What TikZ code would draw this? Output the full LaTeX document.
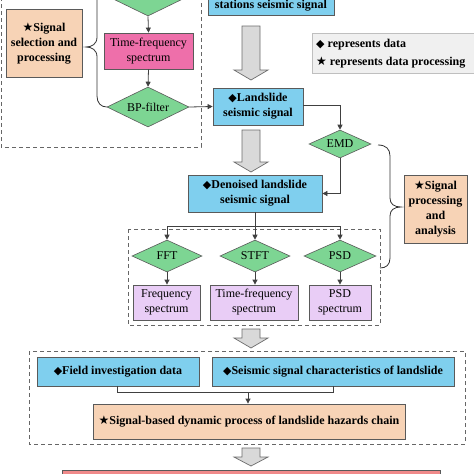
\documentclass[tikz,border=0pt]{standalone}
\usepackage{fontspec}
\setmainfont{Liberation Serif}
\newfontfamily\symf{DejaVu Sans}
\usetikzlibrary{shapes.geometric,arrows.meta}
\definecolor{cblue}{HTML}{7FCFEE}
\definecolor{cpink}{HTML}{EE6FAA}
\definecolor{cgreen}{HTML}{7DD593}
\definecolor{cpurple}{HTML}{E9CDF6}
\definecolor{cpeach}{HTML}{F7D3B6}
\definecolor{cred}{HTML}{F08A8A}
\definecolor{cborder}{HTML}{5A5A5A}
\newcommand{\dia}{{\symf\fontsize{11}{12}\selectfont◆}}
\newcommand{\str}{{\symf\fontsize{12}{12}\selectfont★}}
\tikzset{
  every node/.style={font=\fontsize{12}{15}\selectfont},
  bx/.style={draw=cborder,line width=0.8pt,inner sep=0pt,align=center},
  databox/.style={bx,fill=cblue,font=\fontsize{12}{15}\selectfont\bfseries},
  procbox/.style={bx,fill=cpeach,font=\fontsize{12}{15}\selectfont\bfseries},
  specbox/.style={bx,fill=cpurple},
  dia/.style={diamond,draw=cborder,line width=0.6pt,fill=cgreen,inner sep=0pt,aspect=2.3},
  grp/.style={draw=gray!80!black,line width=0.9pt,dash pattern=on 4pt off 3pt},
  conn/.style={draw=black!75,line width=0.8pt},
  arr/.style={conn,-{Triangle[length=5pt,width=5pt]}},
  brace/.style={draw=black!80,line width=0.8pt},
  bigarrow/.style={draw=gray!85!black,line width=0.7pt,fill=gray!30}
}
\newcommand{\bigarr}[4]{% x, top, headstart, tip
  \draw[bigarrow] (#1-9,#2) -- (#1+9,#2) -- (#1+9,#3) -- (#1+17,#3) -- (#1,#4) -- (#1-17,#3) -- (#1-9,#3) -- cycle;}
\begin{document}
\begin{tikzpicture}[x=1pt,y=-1pt]
\useasboundingbox (0,0) rectangle (474,474);
\fill[white] (0,0) rectangle (474,474);
% group 1
\draw[grp] (1,-10) rectangle (201,147);
\node[procbox,minimum width=76,minimum height=68] (sel) at (44,43) {\str Signal\\selection and\\processing};
\node[dia,minimum width=82,minimum height=40] (top) at (148,-4) {};
\node[bx,fill=cpink,minimum width=89,minimum height=36] (tf) at (148.5,51) {Time-frequency\\spectrum};
\node[dia,minimum width=82,minimum height=40] (bp) at (148,107) {BP-filter};
\draw[arr] (top.south) -- (tf.north);
\draw[arr] (tf.south) -- (bp.north);
\draw[brace] (97,-12) -- (97,37) .. controls (97,44) and (92,47) .. (86,47)
  .. controls (92,47) and (97,50) .. (97,57) -- (97,96) .. controls (97,103) and (101,107) .. (bp.west);
% stations
\node[databox,minimum width=126,minimum height=40] (sta) at (271,-5) {};
\node[font=\fontsize{12}{15}\selectfont\bfseries,inner sep=0pt] (statxt) at (271,6) {stations seismic signal};
% legend
\node[draw=gray!50,fill=gray!12,minimum width=166,minimum height=40,inner sep=0pt] (leg) at (395,53) {};
\node[anchor=west,font=\fontsize{12}{15}\selectfont\bfseries,inner sep=0pt] (l1) at (316,45) {\dia\ represents data};
\node[anchor=west,font=\fontsize{12}{15}\selectfont\bfseries,inner sep=0pt] (l2) at (316,62) {\str\ represents data processing};
% landslide
\node[databox,minimum width=90,minimum height=37] (land) at (258,106.5) {\dia Landslide\\seismic signal};
\draw[arr] (bp.east) -- (land.west);
\bigarr{251}{26}{70}{80}
\node[dia,minimum width=62,minimum height=28] (emd) at (340,144) {EMD};
\draw[arr] (land.east |- 0,105) -| (emd.north);
\node[databox,minimum width=134,minimum height=37] (den) at (255,193.5) {\dia Denoised landslide\\seismic signal};
\draw[arr] (emd.south) |- (den.east);
\bigarr{251}{130}{162}{172}
% right brace and box
\node[procbox,minimum width=63,minimum height=68] (spa) at (435.5,209) {\str Signal\\processing\\and\\analysis};
\draw[brace] (378,145) .. controls (386,145) and (390,149) .. (390,156) -- (390,198) .. controls (390,204) and (394,207) .. (401,207)
  .. controls (394,207) and (390,210) .. (390,216) -- (390,258) .. controls (390,265) and (386,268) .. (380,268);
% group 2
\draw[grp] (128,229) rectangle (380,325);
\node[dia,minimum width=70,minimum height=32] (fft) at (167,256) {FFT};
\node[dia,minimum width=70,minimum height=32] (stft) at (255,256) {STFT};
\node[dia,minimum width=72,minimum height=32] (psd) at (340,256) {PSD};
\coordinate (j) at (255,226);
\draw[conn] (den.south) -- (j);
\draw[arr] (j) -| (fft.north);
\draw[arr] (j) -- (stft.north);
\draw[arr] (j) -| (psd.north);
\node[specbox,minimum width=67,minimum height=35] (fs) at (166.5,302.5) {Frequency\\spectrum};
\node[specbox,minimum width=88,minimum height=35] (tfs) at (254,302.5) {Time-frequency\\spectrum};
\node[specbox,minimum width=62,minimum height=35] (ps) at (340,302.5) {PSD\\spectrum};
\draw[arr] (fft.south) -- (fs.north -| fft.south);
\draw[arr] (stft.south) -- (tfs.north -| stft.south);
\draw[arr] (psd.south) -- (ps.north -| psd.south);
\bigarr{251}{329}{338}{348}
% group 3
\draw[grp] (29,351) rectangle (465,444);
\node[databox,minimum width=162,minimum height=29] (field) at (118,371.5) {\dia Field investigation data};
\node[databox,minimum width=242,minimum height=29] (sch) at (333,371.5) {\dia Seismic signal characteristics of landslide};
\node[procbox,minimum width=312,minimum height=35] (sb) at (249,421.5) {\str Signal-based dynamic process of landslide hazards chain};
\coordinate (k) at (248,392);
\draw[conn] (field.south -| 117,0) |- (k);
\draw[conn] (sch.south) |- (k);
\draw[arr] (k) -- (sb.north -| k);
\bigarr{251}{448}{457}{466}
\node[bx,fill=cred,minimum width=378,minimum height=30] (fin) at (251,485) {};
\end{tikzpicture}
\end{document}
